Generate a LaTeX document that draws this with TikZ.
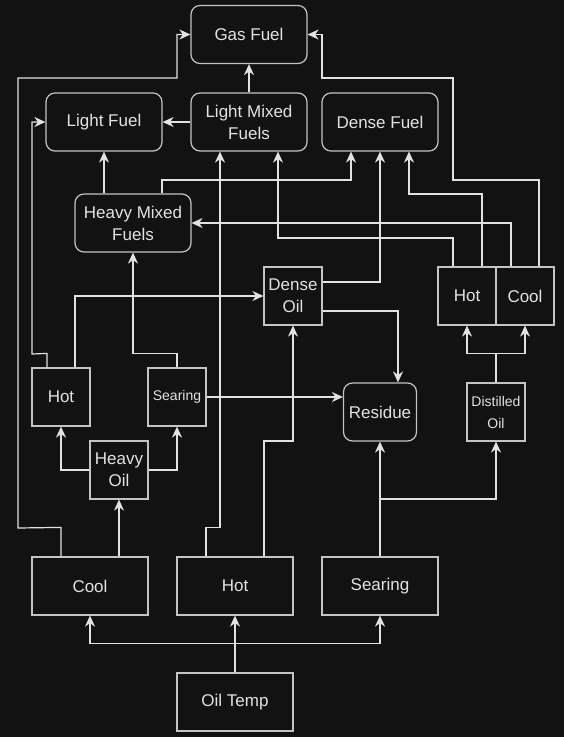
\documentclass[tikz,border=0pt]{standalone}
\usepackage{fontspec}
\setmainfont{Liberation Sans}
\usetikzlibrary{arrows.meta}
\definecolor{bg}{RGB}{18,18,18}
\definecolor{ln}{RGB}{226,226,226}
\definecolor{bd}{RGB}{196,196,196}
\definecolor{tx}{RGB}{226,226,226}
\begin{document}
\begin{tikzpicture}[x=1pt, y=-1pt,
    box/.style={draw=bd, fill=bg, text=tx, line width=1.2pt, minimum width=116pt,
      minimum height=58pt, align=center, inner sep=1pt, font=\fontsize{17}{22}\selectfont},
    rbox/.style={box, rounded corners=9pt},
    sbox/.style={box, minimum width=58pt},
    small/.style={font=\fontsize{14}{22}\selectfont},
    arr/.style={draw=ln, line width=1.2pt, -{Stealth[length=11pt,width=10pt,inset=3.5pt]}}]
    \fill[bg] (0,0) rectangle (564,737);
    \useasboundingbox (0,0) rectangle (564,737);

    \node[rbox] (gas) at (249,34.5) {Gas Fuel};
    \node[rbox] (lfuel) at (104,122) {Light Fuel};
    \node[rbox] (lmix) at (249,122) {Light Mixed\\Fuels};
    \node[rbox] (dfuel) at (380,122) {Dense Fuel};
    \node[rbox] (hmix) at (133,223) {Heavy Mixed\\Fuels};
    \node[sbox] (doil) at (293,296) {Dense\\Oil};
    \node[sbox] (hotr) at (467,296) {Hot};
    \node[sbox] (coolr) at (525,296) {Cool};
    \node[sbox] (hotl) at (61,397) {Hot};
    \node[sbox, small] (searl) at (177,397) {Searing};
    \node[rbox, minimum width=73pt] (resid) at (380,412) {Residue};
    \node[sbox, small] (dist) at (496,412) {Distilled\\Oil};
    \node[sbox] (hoil) at (119,470) {Heavy\\Oil};
    \node[box] (coolb) at (90,586) {Cool};
    \node[box] (hotb) at (235,586) {Hot};
    \node[box] (searb) at (380,586) {Searing};
    \node[box] (temp) at (235,702) {Oil Temp};

    \draw[arr] (temp) -- (hotb);
    \draw[arr] (temp.north) -- ++(0,-29) -| (coolb);
    \draw[arr] (temp.north) -- ++(0,-29) -| (searb);

    \draw[arr] ([xshift=-29pt]coolb.north) -- ++(0,-29) -- (18,528) -- (18,78) -- (177,78) |- (gas);
    \draw[arr] ([xshift=29pt]coolb.north) -- (hoil);
    \draw[arr] ([xshift=-29pt]hotb.north) -- ++(0,-29) -| ([xshift=-29pt]lmix.south);
    \draw[arr] ([xshift=29pt]hotb.north) -- (264,441) -| (doil);
    \draw[arr] (searb) -- (resid);
    \draw[arr] (searb.north) -- (380,499) -| (dist);

    \draw[arr] (hoil.west) -| (hotl);
    \draw[arr] (hoil.east) -| (searl);

    \draw[arr] ([xshift=-14pt]hotl.north) -- ++(0,-14) -- (32,354) |- (lfuel);
    \draw[arr] ([xshift=14pt]hotl.north) |- (doil);
    \draw[arr] (searl.north) -- ++(0,-14) -| (hmix);
    \draw[arr] (searl.east) -- (searl.east -| resid.west);

    \draw[arr] ([yshift=14pt]doil.east) -| (dfuel);
    \draw[arr] ([yshift=-15pt]doil.east) -| ([xshift=18pt]resid.north);

    \draw[arr] ([xshift=-29pt]hmix.north) -- (lfuel);
    \draw[arr] ([xshift=29pt]hmix.north) -- (162,180) -| ([xshift=-29pt]dfuel.south);
    \draw[arr] (lmix) -- (gas);
    \draw[arr] (lmix) -- (lfuel);

    \draw[arr] ([xshift=-14pt]hotr.north) -- (453,238) -| ([xshift=29pt]lmix.south);
    \draw[arr] ([xshift=15pt]hotr.north) -- (482,194) -| ([xshift=29pt]dfuel.south);
    \draw[arr] ([xshift=-14pt]coolr.north) |- (hmix);
    \draw[arr] ([xshift=14pt]coolr.north) -- (539,180) -- (453,180) -- (453,78) -- (322,78) |- (gas);

    \draw[arr] (dist.north) -- ++(0,-29) -| (hotr);
    \draw[arr] (dist.north) -- ++(0,-29) -| (coolr);
\end{tikzpicture}
\end{document}
